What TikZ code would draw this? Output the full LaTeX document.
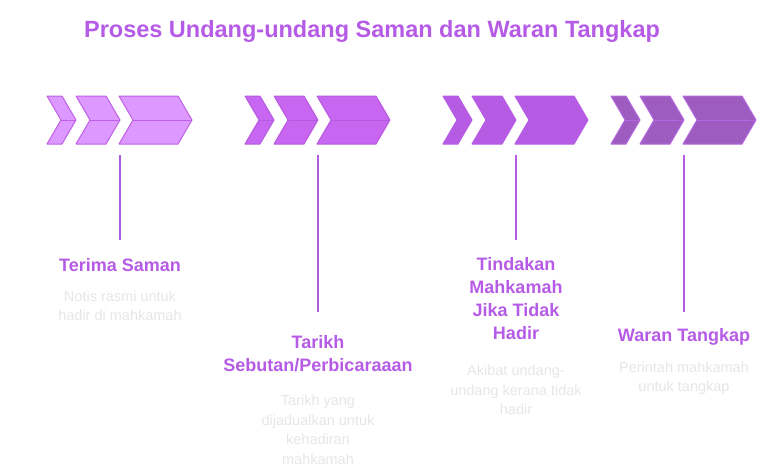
\documentclass[tikz,border=0pt]{standalone}
\usepackage{fontspec}
\setmainfont{Liberation Sans}
\definecolor{tt}{HTML}{B55BE6}
\definecolor{ln}{HTML}{B05CE0}
\definecolor{ds}{HTML}{E6E6E6}
\definecolor{fa}{HTML}{DD99FF}\definecolor{sa}{HTML}{C060E8}
\definecolor{fb}{HTML}{C766F0}\definecolor{sb}{HTML}{B85AE0}
\definecolor{fc}{HTML}{B65BE3}\definecolor{sc}{HTML}{B65BE3}
\definecolor{fd}{HTML}{9E5CC0}\definecolor{sd}{HTML}{B366DD}
\tikzset{lbl/.style={font=\bfseries\fontsize{18}{23}\selectfont,text=tt,align=center,inner sep=0pt},
desc/.style={font=\fontsize{14.5}{19.5}\selectfont,text=ds,align=center,inner sep=0pt},
vline/.style={draw=ln,line width=1.3pt}}
\newcommand{\chevgroup}[3]{%
\begin{scope}[shift={(#1,0)}]
\foreach \a/\b in {0/15,29/59,72/131}{
 \draw[fill=#2,draw=#3,line width=1pt,line join=round] (\a,96)--(\b,96)--(\b+14,120)--(\b,144)--(\a,144)--(\a+14,120)--cycle;
 \draw[draw=#3,line width=0.8pt] (\a+14,120)--(\b+14,120);}
\end{scope}}
\begin{document}
\begin{tikzpicture}[x=1pt,y=-1pt]
\useasboundingbox (0,0) rectangle (780,475);
\node[font=\bfseries\fontsize{23.5}{28}\selectfont,text=tt] (title) at (372,31) {Proses Undang-undang Saman dan Waran Tangkap};
\chevgroup{47}{fa}{sa}
\chevgroup{245}{fb}{sb}
\chevgroup{443}{fc}{sc}
\chevgroup{611}{fd}{sd}
\coordinate (t1) at (120,155); \coordinate (t2) at (318,155);
\coordinate (t3) at (516,155); \coordinate (t4) at (684,155);
\coordinate (b1) at (120,240); \coordinate (b2) at (318,312);
\coordinate (b3) at (516,240); \coordinate (b4) at (684,312);
\node[lbl] (l1) at (120,265) {Terima Saman};
\node[lbl] (l2) at (318,354) {Tarikh\\Sebutan/Perbicaraaan};
\node[lbl] (l3) at (516,299) {Tindakan\\Mahkamah\\Jika Tidak\\Hadir};
\node[lbl] (l4) at (684,337) {Waran Tangkap};
\draw[vline] (t1)--(b1); \draw[vline] (t2)--(b2);
\draw[vline] (t3)--(b3); \draw[vline] (t4)--(b4);
\node[desc] (d1) at (120,306) {Notis rasmi untuk\\hadir di mahkamah};
\node[desc] (d2) at (318,430) {Tarikh yang\\dijadualkan untuk\\kehadiran\\mahkamah};
\node[desc] (d3) at (516,390) {Akibat undang-\\undang kerana tidak\\hadir};
\node[desc] (d4) at (684,378) {Perintah mahkamah\\untuk tangkap};
\end{tikzpicture}
\end{document}
